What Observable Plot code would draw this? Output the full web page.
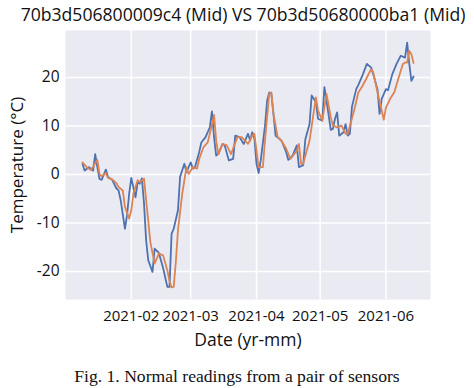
<!DOCTYPE html>
<html>
<head>
<meta charset="utf-8">
<script src="https://cdn.jsdelivr.net/npm/d3@7"></script>
<script src="https://cdn.jsdelivr.net/npm/@observablehq/plot@0.6"></script>
<style>
  html, body { margin: 0; padding: 0; background: #fff; }
  #wrap { width: 474px; height: 388px; position: relative; overflow: hidden; }
  #title { position: absolute; left: 0; top: 2px; width: 474px; padding-left: 12px; box-sizing: border-box;
           text-align: center; font-family: "Open Sans", sans-serif; font-size: 17.6px; color: #111; white-space: nowrap; }
  #chart { position: absolute; left: 0; top: 28px; }
  #caption { position: absolute; left: 0; top: 366px; width: 474px; text-align: center;
             font-family: "Liberation Serif", serif; font-size: 17.6px; color: #111; white-space: nowrap; }
</style>
</head>
<body>
<div id="wrap">
  <div id="title">70b3d506800009c4 (Mid) VS 70b3d50680000ba1 (Mid)</div>
  <div id="chart"></div>
  <div id="caption">Fig. 1. Normal readings from a pair of sensors</div>
</div>
<script>
const seriesNames = ["70b3d506800009c4", "70b3d50680000ba1"];
const seriesColors = ["#4c72b0", "#dd8452"];

const dates1 = ["2021-01-09","2021-01-10","2021-01-12","2021-01-14","2021-01-15","2021-01-16","2021-01-17","2021-01-18","2021-01-20","2021-01-21","2021-01-23","2021-01-25","2021-01-26","2021-01-27","2021-01-29","2021-01-30","2021-01-31",
"2021-02-01","2021-02-03","2021-02-04","2021-02-05","2021-02-06","2021-02-07","2021-02-08","2021-02-09","2021-02-11","2021-02-12","2021-02-14","2021-02-16","2021-02-18","2021-02-19","2021-02-20","2021-02-21","2021-02-23","2021-02-24","2021-02-26","2021-02-27",
"2021-03-01","2021-03-02","2021-03-03","2021-03-05","2021-03-06","2021-03-08","2021-03-10","2021-03-11","2021-03-12","2021-03-13","2021-03-14","2021-03-16","2021-03-17","2021-03-19","2021-03-21","2021-03-22","2021-03-24","2021-03-26","2021-03-28","2021-03-29","2021-03-30","2021-03-31",
"2021-04-01","2021-04-02","2021-04-03","2021-04-05","2021-04-06","2021-04-07","2021-04-08","2021-04-09","2021-04-10","2021-04-12","2021-04-13","2021-04-15","2021-04-16","2021-04-18","2021-04-19","2021-04-20","2021-04-21","2021-04-23","2021-04-24","2021-04-26","2021-04-27","2021-04-29","2021-04-30",
"2021-05-02","2021-05-03","2021-05-04","2021-05-06","2021-05-07","2021-05-08","2021-05-09","2021-05-10","2021-05-12","2021-05-13","2021-05-14","2021-05-15","2021-05-16","2021-05-18","2021-05-19","2021-05-21","2021-05-23","2021-05-25","2021-05-26","2021-05-28","2021-05-29","2021-05-30",
"2021-06-01","2021-06-02","2021-06-04","2021-06-06","2021-06-08","2021-06-10","2021-06-11","2021-06-12","2021-06-13","2021-06-14"];
const temps1 = [2.2,0.8,1.5,0.8,4.2,1.5,-0.9,-1.1,1.0,-0.5,-1.1,-2.9,-3.3,-5.3,-11.2,-8.4,-4.0,
-0.7,-4.7,-1.6,-1.9,-0.8,-6.0,-13.6,-17.7,-20.1,-15.3,-16.2,-19.3,-23.2,-23.2,-12.2,-11.2,-7.4,-0.5,2.2,0.5,
2.5,1.2,1.5,4.6,6.6,7.7,9.7,13.0,7.7,3.9,4.2,6.3,6.0,2.9,3.2,8.0,7.7,6.3,8.4,7.0,8.7,7.5,
2.2,0.3,2.9,10.0,15.2,16.9,16.6,12.5,8.0,7.3,6.8,4.6,3.0,3.9,4.9,6.0,1.5,1.9,7.2,10.4,16.3,14.9,11.5,
11.1,18.0,15.3,9.2,9.4,11.5,12.8,8.0,8.7,10.4,8.0,8.4,14.0,17.6,18.5,20.5,22.8,22.1,20.7,17.6,12.5,15.6,
17.6,17.4,20.7,22.8,24.5,24.1,27.2,22.8,19.3,20.2];

const dates2 = ["2021-01-09","2021-01-11","2021-01-13","2021-01-16","2021-01-17","2021-01-18","2021-01-20","2021-01-21","2021-01-23","2021-01-25","2021-01-26","2021-01-28","2021-01-29","2021-01-31",
"2021-02-01","2021-02-02","2021-02-04","2021-02-05","2021-02-07","2021-02-08","2021-02-10","2021-02-12","2021-02-14","2021-02-16","2021-02-18","2021-02-19","2021-02-20","2021-02-21","2021-02-22","2021-02-23","2021-02-25","2021-02-27","2021-02-28",
"2021-03-02","2021-03-04","2021-03-05","2021-03-07","2021-03-09","2021-03-10","2021-03-12","2021-03-13","2021-03-14","2021-03-16","2021-03-18","2021-03-20","2021-03-23","2021-03-25","2021-03-28","2021-03-30","2021-03-31",
"2021-04-02","2021-04-04","2021-04-05","2021-04-07","2021-04-08","2021-04-09","2021-04-11","2021-04-13","2021-04-15","2021-04-17","2021-04-20","2021-04-21","2021-04-22","2021-04-23","2021-04-26","2021-04-29","2021-04-30",
"2021-05-02","2021-05-04","2021-05-06","2021-05-07","2021-05-09","2021-05-11","2021-05-13","2021-05-14","2021-05-17","2021-05-19","2021-05-21","2021-05-23","2021-05-25","2021-05-26","2021-05-28","2021-05-30","2021-05-31",
"2021-06-01","2021-06-03","2021-06-05","2021-06-07","2021-06-09","2021-06-10","2021-06-11","2021-06-12","2021-06-13","2021-06-14"];
const temps2 = [2.5,1.5,0.9,3.0,0.1,-0.4,0.3,-0.7,-1.0,-1.8,-2.6,-3.3,-6.7,-9.1,
-7.4,-4.0,-1.2,-1.6,-0.9,-5.3,-14.0,-18.4,-16.3,-16.7,-19.8,-22.0,-23.3,-23.2,-18.0,-11.5,-4.0,1.5,0.1,
1.5,1.2,3.2,5.6,6.6,8.4,12.3,7.0,4.2,6.3,6.0,4.2,7.7,7.7,6.3,8.0,8.4,
1.5,1.5,7.0,16.6,16.9,12.5,7.7,6.8,5.3,3.2,4.9,6.3,2.2,2.2,7.0,15.9,13.2,
11.1,16.6,11.8,10.1,9.7,10.1,8.4,8.4,13.2,16.9,18.3,20.0,21.7,21.1,17.0,13.2,11.3,
13.8,15.6,17.0,20.0,22.8,23.1,23.1,25.5,24.8,23.0];

const xTicks = ["2021-02-01","2021-03-01","2021-04-01","2021-05-01","2021-06-01"];
const yTicks = [-20, -10, 0, 10, 20];
const xDomain = ["2021-01-01", "2021-06-22"];
const yDomain = [-25.8, 29.7];

const data = [
  ...dates1.map((d, i) => ({date: new Date(d), temp: temps1[i], sensor: seriesNames[0]})),
  ...dates2.map((d, i) => ({date: new Date(d), temp: temps2[i], sensor: seriesNames[1]}))
];

const font = "'Open Sans', sans-serif";
const chart = Plot.plot({
  width: 474,
  height: 322,
  marginTop: 2,
  marginLeft: 65,
  marginRight: 44,
  marginBottom: 51,
  style: {fontFamily: font, fontSize: "15px", color: "#111", background: "transparent"},
  x: {type: "utc", domain: xDomain.map(d => new Date(d))},
  y: {domain: yDomain},
  color: {domain: seriesNames, range: seriesColors},
  marks: [
    Plot.frame({fill: "#eaeaf2", stroke: null}),
    Plot.gridX(xTicks.map(d => new Date(d)), {stroke: "#fff", strokeOpacity: 1, strokeWidth: 1.5}),
    Plot.gridY(yTicks, {stroke: "#fff", strokeOpacity: 1, strokeWidth: 1.5}),
    Plot.axisX(xTicks.map(d => new Date(d)), {tickSize: 0, tickPadding: 11, tickFormat: d3.utcFormat("%Y-%m"),
      label: null, fontSize: 15}),
    Plot.axisX([], {label: "Date (yr-mm)", labelAnchor: "center", labelArrow: "none", labelOffset: 46, fontSize: 17.5}),
    Plot.axisY(yTicks, {tickSize: 0, tickPadding: 6, tickFormat: d => String(d), label: null, fontSize: 15.5}),
    Plot.axisY([], {label: "Temperature (°C)", labelAnchor: "center", labelArrow: "none", labelOffset: 55, fontSize: 17}),
    Plot.line(data, {x: "date", y: "temp", stroke: "sensor", strokeWidth: 1.8, z: "sensor"})
  ]
});
document.getElementById("chart").appendChild(chart);
</script>
</body>
</html>
